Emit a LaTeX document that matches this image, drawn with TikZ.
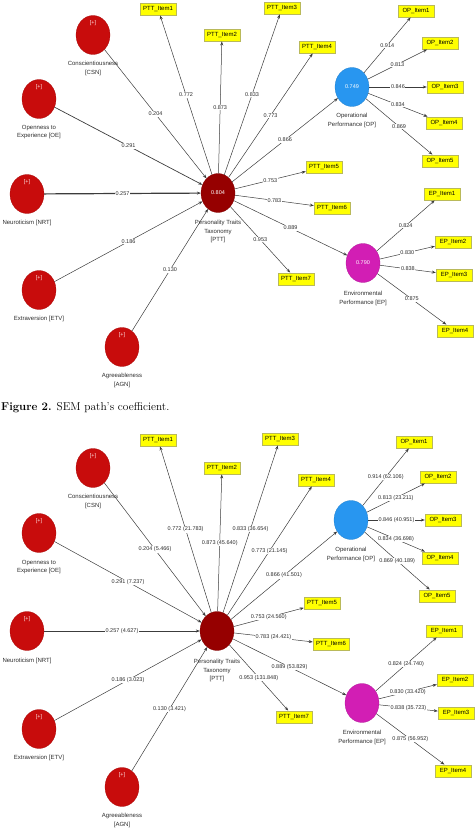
\documentclass[tikz,border=0pt]{standalone}
\usepackage{fontspec}
\newfontfamily\lab{Liberation Sans}
\usetikzlibrary{shapes.geometric,arrows.meta}
\definecolor{exored}{RGB}{200,12,12}
\definecolor{pttred}{RGB}{150,0,0}
\definecolor{opblue}{RGB}{40,150,240}
\definecolor{epmag}{RGB}{210,30,180}
\definecolor{boxyel}{RGB}{255,255,0}
\definecolor{boxedge}{RGB}{185,185,90}
\definecolor{linegray}{RGB}{60,60,60}
\definecolor{labgray}{RGB}{45,45,45}
\begin{document}
\begin{tikzpicture}[x=1pt,y=-1pt,
  lv/.style={ellipse, minimum width=34pt, minimum height=39pt, inner sep=0pt, text=white, font=\lab\fontsize{5.5}{6}\selectfont},
  exo/.style={lv, fill=exored, draw=exored!85!black, line width=0.3pt},
  ptts/.style={lv, fill=pttred, draw=pttred!85!black, line width=0.3pt},
  ops/.style={lv, fill=opblue, draw=opblue!85!black, line width=0.3pt},
  eps/.style={lv, fill=epmag, draw=epmag!85!black, line width=0.3pt},
  plus/.style={inner sep=0pt, text=white!90!red, font=\lab\fontsize{5.5}{6}\selectfont},
  item/.style={rectangle, fill=boxyel, draw=boxedge, line width=0.4pt, minimum width=36pt, minimum height=12.5pt, inner sep=1pt, font=\lab\fontsize{6}{7}\selectfont},
  lbl/.style={inner sep=0pt, align=center, text=labgray, font=\lab\fontsize{6}{8.5}\selectfont},
  arr/.style={draw=linegray, line width=0.5pt, -{Stealth[length=4pt,width=3pt]}},
  coef/.style={fill=white, inner sep=0.6pt, text=labgray, font=\lab\fontsize{5.5}{6}\selectfont}
]
\useasboundingbox (0,0) rectangle (474,829);

% ================= TOP DIAGRAM =================
\node[exo] (csn) at (93,35) {};
\node[exo] (oe) at (39,99) {};
\node[exo] (nrt) at (27,194) {};
\node[exo] (etv) at (39,290) {};
\node[exo] (agn) at (122,347) {};
\node[ptts] (ptt) at (218,193) {0.804};
\node[ops] (op) at (352,87) {0.749};
\node[eps] (ep) at (363,263) {0.790};

\foreach \n in {csn,oe,nrt,etv,agn}{\node[plus] at ([yshift=12pt]\n.center) {[+]};}

\node[lbl, anchor=north] (csnl) at ([yshift=-26pt]csn.center) {Conscientiousness\\{}[CSN]};
\node[lbl, anchor=north] (oel) at ([yshift=-26pt]oe.center) {Openness to\\Experience [OE]};
\node[lbl, anchor=north] (nrtl) at ([yshift=-26pt]nrt.center) {Neuroticism [NRT]};
\node[lbl, anchor=north] (etvl) at ([yshift=-26pt]etv.center) {Extraversion [ETV]};
\node[lbl, anchor=north] (agnl) at ([yshift=-26pt]agn.center) {Agreeableness\\{}[AGN]};
\node[lbl, anchor=north] (pttl) at ([yshift=-27pt]ptt.center) {Personality Traits\\Taxonomy\\{}[PTT]};
\node[lbl, anchor=north] (opl) at ([yshift=-26pt]op.center) {Operational\\Performance [OP]};
\node[lbl, anchor=north] (epl) at ([yshift=-28pt]ep.center) {Environmental\\Performance [EP]};

\node[item] (p1) at (158,9) {PTT\_Item1};
\node[item] (p2) at (222,35) {PTT\_Item2};
\node[item] (p3) at (282,8) {PTT\_Item3};
\node[item] (p4) at (317,47) {PTT\_Item4};
\node[item] (p5) at (324,167) {PTT\_Item5};
\node[item] (p6) at (332,208) {PTT\_Item6};
\node[item] (p7) at (296,279) {PTT\_Item7};
\node[item] (o1) at (416,11) {OP\_Item1};
\node[item] (o2) at (440,43) {OP\_Item2};
\node[item] (o3) at (445,87) {OP\_Item3};
\node[item] (o4) at (444,123) {OP\_Item4};
\node[item] (o5) at (440,161) {OP\_Item5};
\node[item] (e1) at (442,194) {EP\_Item1};
\node[item] (e2) at (453,242) {EP\_Item2};
\node[item] (e3) at (454,275) {EP\_Item3};
\node[item] (e4) at (455,331) {EP\_Item4};

\draw[arr] (csn) -- node[coef]{0.204} (ptt);
\draw[arr, line width=0.7pt] (oe) -- node[coef]{0.291} (ptt);
\draw[arr, line width=1.2pt] (nrt) -- node[coef]{0.257} (ptt);
\draw[arr] (etv) -- node[coef]{0.186} (ptt);
\draw[arr] (agn) -- node[coef]{0.130} (ptt);
\draw[arr] (ptt) -- node[coef]{0.772} (p1);
\draw[arr] (ptt) -- node[coef]{0.873} (p2);
\draw[arr] (ptt) -- node[coef]{0.833} (p3);
\draw[arr] (ptt) -- node[coef]{0.773} (p4);
\draw[arr] (ptt) -- node[coef]{0.753} (p5);
\draw[arr] (ptt) -- node[coef]{0.783} (p6);
\draw[arr] (ptt) -- node[coef]{0.953} (p7);
\draw[arr] (ptt) -- node[coef]{0.866} (op);
\draw[arr] (ptt) -- node[coef]{0.889} (ep);
\draw[arr] (op) -- node[coef]{0.914} (o1);
\draw[arr] (op) -- node[coef]{0.813} (o2);
\draw[arr] (op) -- node[coef]{0.846} (o3);
\draw[arr] (op) -- node[coef]{0.834} (o4);
\draw[arr] (op) -- node[coef]{0.869} (o5);
\draw[arr] (ep) -- node[coef]{0.824} (e1);
\draw[arr] (ep) -- node[coef]{0.830} (e2);
\draw[arr] (ep) -- node[coef]{0.838} (e3);
\draw[arr] (ep) -- node[coef]{0.875} (e4);

% ================= CAPTION =================
\node[anchor=west, inner sep=0pt, font=\fontsize{11.4}{13}\selectfont] (cap) at (1,408) {\textbf{Figure 2.} SEM path’s coefficient.};

% ================= BOTTOM DIAGRAM =================
\node[exo] (bcsn) at (93,468) {};
\node[exo] (boe) at (39,533) {};
\node[exo] (bnrt) at (27,631) {};
\node[exo] (betv) at (39,729) {};
\node[exo] (bagn) at (122,787) {};
\node[ptts] (bptt) at (217,631) {};
\node[ops] (bop) at (351,520) {};
\node[eps] (bep) at (362,703) {};

\foreach \n in {bcsn,boe,bnrt,betv,bagn}{\node[plus] at ([yshift=12pt]\n.center) {[+]};}

\node[lbl, anchor=north] (bcsnl) at ([yshift=-26pt]bcsn.center) {Conscientiousness\\{}[CSN]};
\node[lbl, anchor=north] (boel) at ([yshift=-27pt]boe.center) {Openness to\\Experience [OE]};
\node[lbl, anchor=north] (bnrtl) at ([yshift=-27pt]bnrt.center) {Neuroticism [NRT]};
\node[lbl, anchor=north] (betvl) at ([yshift=-26pt]betv.center) {Extraversion [ETV]};
\node[lbl, anchor=north] (bagnl) at ([yshift=-26pt]bagn.center) {Agreeableness\\{}[AGN]};
\node[lbl, anchor=north] (bpttl) at ([yshift=-28pt]bptt.center) {Personality Traits\\Taxonomy\\{}[PTT]};
\node[lbl, anchor=north] (bopl) at ([yshift=-27pt]bop.center) {Operational\\Performance [OP]};
\node[lbl, anchor=north] (bepl) at ([yshift=-27pt]bep.center) {Environmental\\Performance [EP]};

\node[item] (bp1) at (158,440) {PTT\_Item1};
\node[item] (bp2) at (222,468) {PTT\_Item2};
\node[item] (bp3) at (280,439) {PTT\_Item3};
\node[item] (bp4) at (316,480) {PTT\_Item4};
\node[item] (bp5) at (322,603) {PTT\_Item5};
\node[item] (bp6) at (331,644) {PTT\_Item6};
\node[item] (bp7) at (294,717) {PTT\_Item7};
\node[item] (bo1) at (414,442) {OP\_Item1};
\node[item] (bo2) at (438,477) {OP\_Item2};
\node[item] (bo3) at (443,520) {OP\_Item3};
\node[item] (bo4) at (440,558) {OP\_Item4};
\node[item] (bo5) at (437,596) {OP\_Item5};
\node[item] (be1) at (444,631) {EP\_Item1};
\node[item] (be2) at (455,680) {EP\_Item2};
\node[item] (be3) at (456,713) {EP\_Item3};
\node[item] (be4) at (453,771) {EP\_Item4};

\draw[arr] (bcsn) -- node[coef]{0.204 (5.466)} (bptt);
\draw[arr] (boe) -- node[coef]{0.291 (7.237)} (bptt);
\draw[arr] (bnrt) -- node[coef]{0.257 (4.627)} (bptt);
\draw[arr] (betv) -- node[coef]{0.186 (3.023)} (bptt);
\draw[arr] (bagn) -- node[coef]{0.130 (3.421)} (bptt);
\draw[arr] (bptt) -- node[coef]{0.772 (21.783)} (bp1);
\draw[arr] (bptt) -- node[coef]{0.873 (45.640)} (bp2);
\draw[arr] (bptt) -- node[coef]{0.833 (36.654)} (bp3);
\draw[arr] (bptt) -- node[coef]{0.773 (21.145)} (bp4);
\draw[arr] (bptt) -- node[coef]{0.753 (24.560)} (bp5);
\draw[arr] (bptt) -- node[coef]{0.783 (24.421)} (bp6);
\draw[arr] (bptt) -- node[coef]{0.953 (131.848)} (bp7);
\draw[arr] (bptt) -- node[coef]{0.866 (41.501)} (bop);
\draw[arr] (bptt) -- node[coef]{0.889 (53.829)} (bep);
\draw[arr] (bop) -- node[coef]{0.914 (62.106)} (bo1);
\draw[arr] (bop) -- node[coef]{0.813 (23.211)} (bo2);
\draw[arr] (bop) -- node[coef]{0.846 (40.951)} (bo3);
\draw[arr] (bop) -- node[coef]{0.834 (36.698)} (bo4);
\draw[arr] (bop) -- node[coef]{0.869 (40.189)} (bo5);
\draw[arr] (bep) -- node[coef]{0.824 (24.740)} (be1);
\draw[arr] (bep) -- node[coef]{0.830 (33.420)} (be2);
\draw[arr] (bep) -- node[coef]{0.838 (35.723)} (be3);
\draw[arr] (bep) -- node[coef]{0.875 (56.952)} (be4);
\end{tikzpicture}
\end{document}
